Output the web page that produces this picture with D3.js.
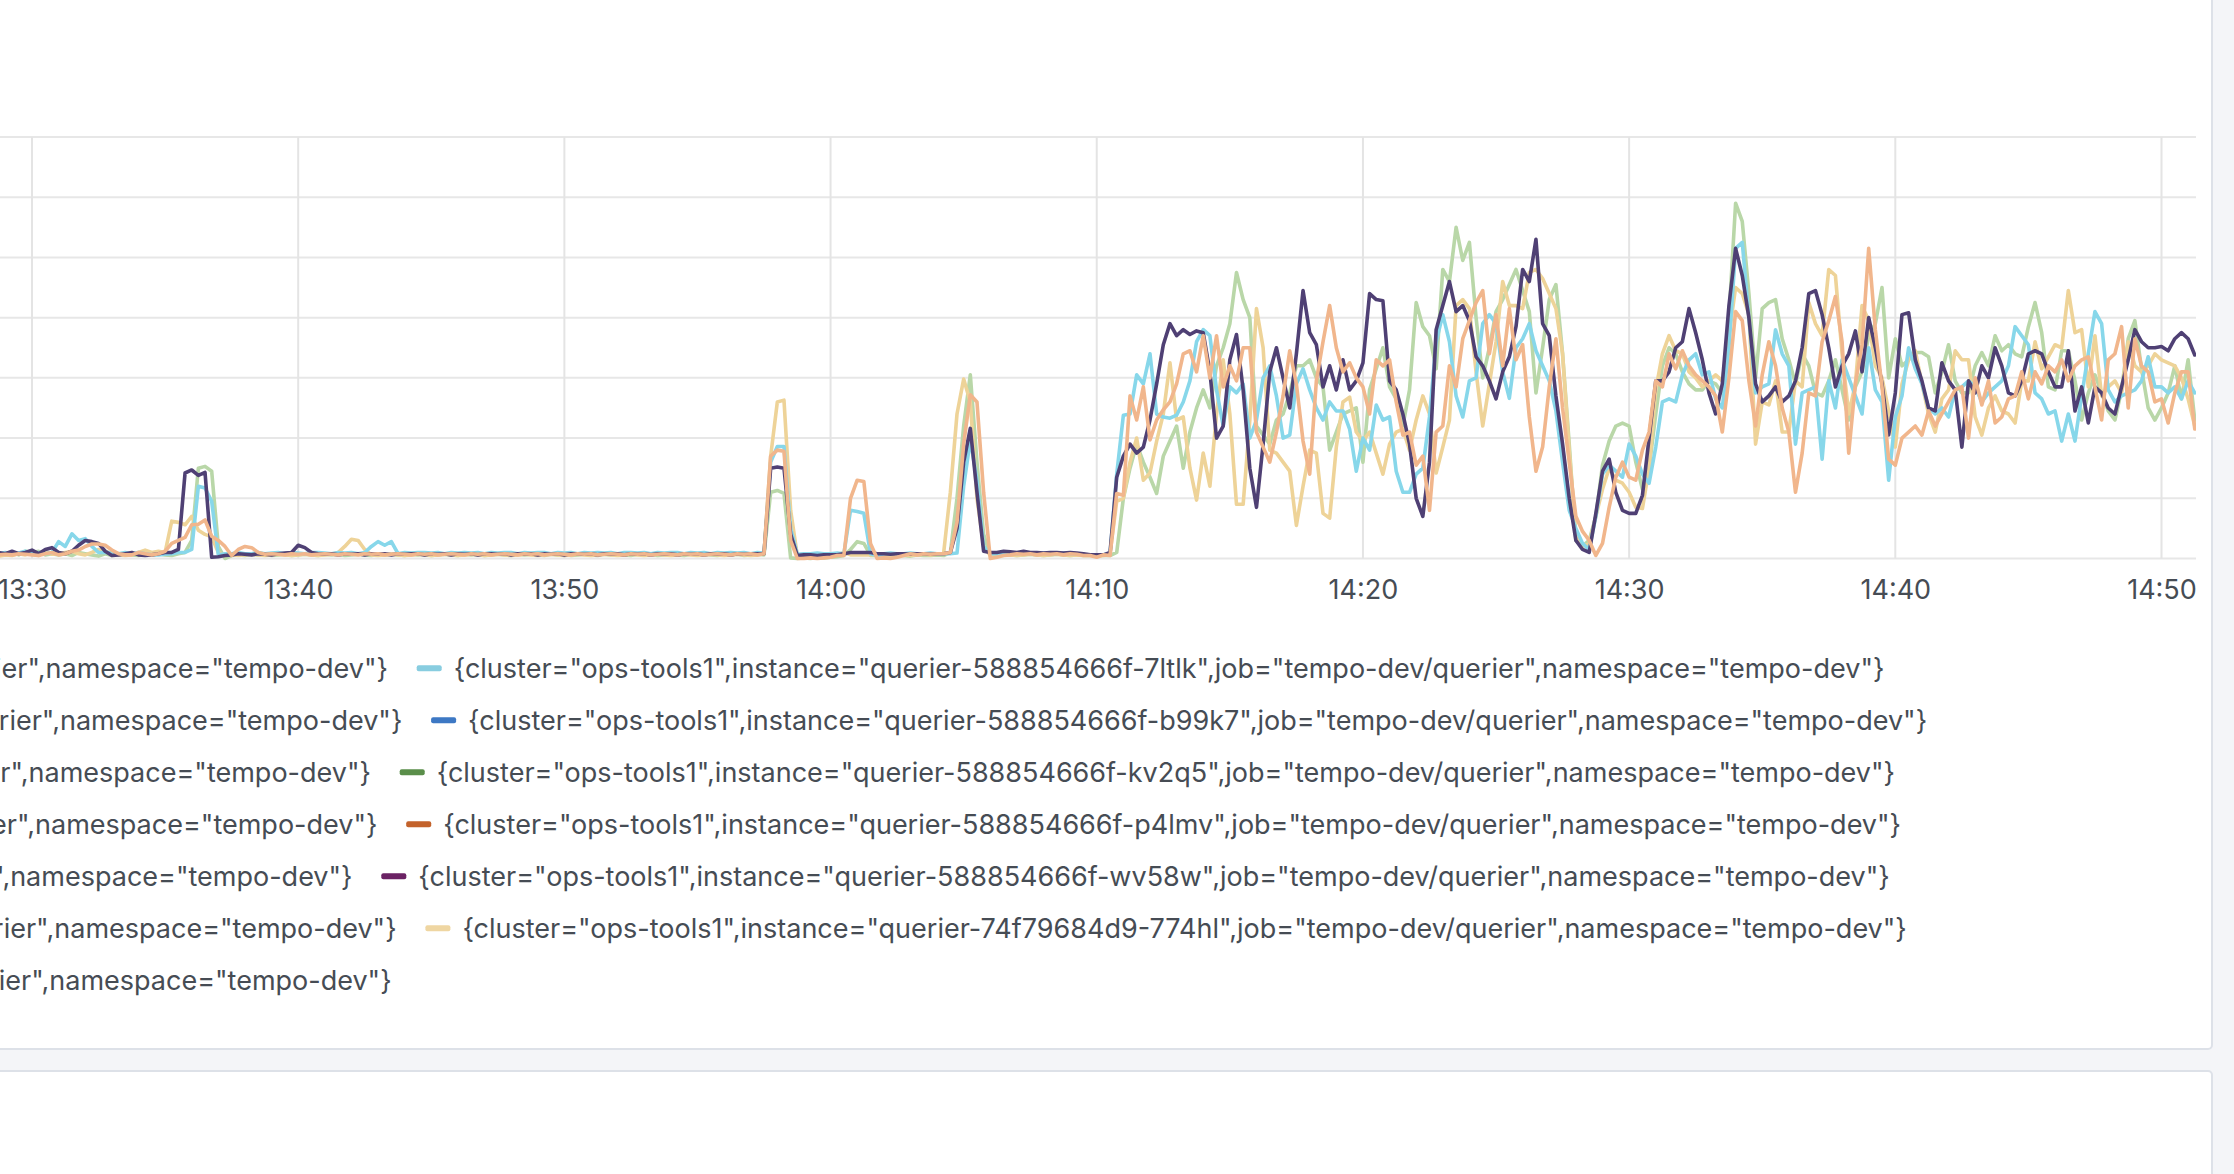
<!DOCTYPE html>
<html><head><meta charset="utf-8">
<script src="https://cdn.jsdelivr.net/npm/d3@7"></script>
<style>
html,body{margin:0;padding:0;background:#f4f5f8;overflow:hidden;}
svg{display:block;font-family:Inter,Roboto,"Noto Sans",sans-serif;}
</style></head><body>
<svg id="c" width="2234" height="1174"></svg>
<script>
// ---------------- DATA ----------------
// samples every 15 s starting 13:28:45
const startTime = [13, 28, 45];
const stepSeconds = 15;
const yTicks = [0, 1, 2, 3, 4, 5, 6, 7];

const purpleVals = [
.10,.08,.12,.08,.10,.14,.08,.15,.18,.10,
.08,.12,.22,.30,.28,.25,.12,.05,.06,.08,
.10,.06,.05,.06,.08,.10,.10,.15,1.42,1.47,
1.38,1.43,.02,.03,.05,.06,.08,.07,.06,.08,
.07,.06,.08,.09,.10,.22,.18,.10,.08,.07,
.08,.06,.08,.07,.08,.06,.08,.07,.08,.06,
.08,.07,.08,.08,.06,.08,.07,.08,.06,.08,
.07,.08,.06,.08,.08,.07,.08,.06,.08,.07,
.08,.06,.08,.07,.08,.06,.08,.08,.07,.08,
.06,.08,.07,.08,.06,.08,.07,.08,.06,.08,
.07,.08,.06,.08,.07,.08,.06,.08,.07,.08,
.06,.08,.07,.08,.08,.08,1.50,1.52,1.50,.40,
.05,.06,.06,.05,.06,.06,.06,.08,.10,.10,
.10,.10,.08,.08,.07,.08,.08,.07,.08,.08,
.07,.08,.08,.10,.50,1.60,2.16,1.10,.12,.10,
.10,.12,.11,.10,.12,.10,.10,.09,.10,.10,
.09,.10,.09,.08,
.06,.06,.06,.10,1.35,1.70,1.90,1.75,1.85,2.30,
2.90,3.55,3.90,3.70,3.80,3.72,3.78,3.75,3.10,2.00,
2.20,3.30,3.72,2.80,1.50,0.85,1.90,3.10,3.50,3.00,
2.50,3.40,4.45,3.75,3.55,2.85,3.20,2.80,3.30,2.80,
2.95,3.25,4.40,4.30,4.28,2.95,2.80,2.40,1.90,1.00,
0.70,1.60,3.80,4.20,4.60,4.10,4.20,3.95,
3.35,3.20,2.95,2.65,3.10,3.35,3.85,4.80,4.60,5.30,
3.90,3.70,2.70,1.90,1.00,0.30,0.15,0.10,0.75,1.45,
1.65,1.10,0.80,0.75,0.75,1.05,2.00,2.95,2.95,3.10,
3.50,3.60,4.15,3.75,3.30,2.75,2.40,2.90,4.20,5.15,
4.70,4.00,2.90,2.60,2.70,2.85,2.60,2.70,2.95,3.50,
4.40,4.45,4.05,3.50,2.85,
3.20,3.40,3.78,3.10,4.00,3.50,2.90,2.05,2.75,4.05,
4.08,3.30,2.95,2.50,2.45,3.25,2.95,2.80,1.85,2.95,
2.75,3.20,3.00,3.50,3.20,2.75,2.70,2.95,3.40,3.45,
3.40,3.10,2.85,2.85,3.45,2.45,2.85,2.25,2.85,2.75,
2.50,2.40,2.85,3.30,3.80,3.60,3.50,3.50,3.52,3.45,
3.65,3.75,3.65,3.38
];

const lightBlueVals = [
.08,.10,.07,.09,.12,.08,.10,.08,.10,.28,
.20,.41,.30,.33,.20,.10,.10,.10,.08,.10,
.08,.10,.08,.06,.06,.07,.08,.10,.10,.15,
1.20,1.17,.95,.06,.08,.08,.10,.08,.08,.10,
.08,.09,.10,.08,.10,.09,.08,.10,.10,.09,
.08,.10,.09,.10,.08,.10,.20,.28,.22,.28,
.08,.10,.09,.10,.10,.09,.10,.08,.10,.09,
.10,.09,.10,.08,.10,.09,.10,.10,.08,.10,
.09,.10,.10,.08,.10,.09,.10,.08,.10,.09,
.10,.09,.10,.08,.10,.10,.09,.10,.08,.10,
.09,.10,.10,.08,.10,.09,.10,.08,.10,.09,
.10,.09,.10,.08,.10,.09,1.60,1.86,1.86,.50,
.07,.08,.08,.09,.08,.08,.09,.08,.80,.78,
.75,.08,.05,.08,.09,.08,.08,.09,.08,.08,
.09,.08,.08,.08,.09,1.20,1.97,1.30,.20,.08,
.08,.09,.08,.08,.09,.08,.08,.09,.08,.08,
.09,.08,.08,.06,
.06,.06,.06,.08,1.40,2.38,2.40,3.05,2.90,3.40,
2.40,2.35,2.33,2.38,2.60,2.95,3.60,3.80,3.70,2.80,
2.20,2.85,2.75,2.90,2.00,2.30,3.00,3.20,2.70,2.00,
2.05,2.90,3.15,2.80,2.50,2.30,2.60,2.45,2.45,2.15,
1.45,2.00,1.80,2.55,2.30,2.35,1.45,1.10,1.10,1.40,
1.50,2.35,3.60,4.05,3.60,2.70,2.35,2.95,
3.00,3.90,4.05,3.90,3.10,2.66,3.50,3.65,3.90,3.45,
3.20,2.95,2.45,1.60,0.80,0.50,0.25,0.15,0.70,1.40,
1.55,1.45,1.35,1.90,1.70,1.40,1.25,1.85,2.60,2.65,
2.60,3.05,3.30,3.40,3.05,3.10,2.65,2.50,3.50,5.15,
5.25,4.00,2.75,2.85,2.90,3.80,3.40,3.20,1.90,2.75,
2.80,2.85,1.65,2.95,2.50,
3.30,3.00,2.70,2.40,3.50,2.80,2.60,1.30,2.35,2.70,
3.50,3.15,2.90,2.50,2.40,2.50,2.35,2.80,2.85,2.95,
2.85,2.60,2.75,2.85,2.95,3.20,3.85,3.70,3.55,2.75,
2.65,2.40,2.45,1.95,2.40,1.95,2.70,3.40,4.10,3.90,
2.80,2.60,2.70,2.75,2.80,2.95,3.35,2.85,2.85,2.75,
2.85,2.65,2.95,2.75
];

const greenVals = [
.05,.08,.10,.06,.12,.10,.12,.06,.08,.06,
.08,.05,.10,.08,.06,.04,.08,.05,.06,.08,
.06,.05,.07,.06,.08,.06,.05,.08,.10,.30,
1.50,1.53,1.45,.20,.00,.05,.06,.05,.07,.06,
.07,.05,.06,.07,.05,.06,.07,.06,.05,.07,
.06,.07,.05,.06,.07,.06,.05,.07,.06,.07,
.06,.05,.07,.06,.07,.05,.06,.07,.06,.05,
.07,.06,.07,.05,.06,.07,.06,.05,.07,.06,
.07,.06,.05,.07,.06,.07,.05,.06,.07,.06,
.05,.07,.06,.07,.06,.05,.07,.06,.07,.05,
.06,.07,.06,.05,.07,.06,.07,.06,.05,.07,
.06,.07,.05,.06,.07,.06,1.10,1.13,1.08,.01,
.00,.01,.00,.02,.01,.02,.03,.05,.15,.28,
.25,.05,.05,.04,.05,.06,.05,.04,.06,.05,
.05,.06,.05,.10,1.00,2.20,3.05,1.60,.40,.05,
.06,.07,.06,.05,.06,.07,.06,.05,.06,.07,
.06,.05,.06,.05,
.05,.05,.05,.05,.10,1.00,1.50,1.90,1.60,1.35,
1.08,1.70,1.95,2.20,1.50,2.10,2.50,2.80,2.50,3.20,
3.50,3.90,4.75,4.30,4.00,2.20,2.05,1.90,2.30,2.40,
2.75,3.20,3.20,3.30,3.00,2.85,1.80,2.10,2.40,2.45,
2.50,1.60,2.80,3.15,3.50,2.85,2.65,2.20,2.80,4.25,
3.85,3.70,3.15,4.80,4.60,5.50,4.95,5.25,
4.00,3.00,3.50,4.10,4.30,4.55,4.80,4.45,4.10,2.75,
3.50,4.30,4.55,3.40,1.90,0.30,0.20,0.30,0.70,1.55,
1.95,2.20,2.25,2.20,1.60,1.15,1.50,2.40,3.20,3.50,
3.40,3.10,2.90,2.80,2.80,2.95,2.90,2.75,4.00,5.90,
5.60,4.40,3.00,4.15,4.25,4.30,3.65,3.30,2.90,3.40,
3.20,2.75,2.70,2.95,3.30,
2.80,2.30,2.85,3.10,3.70,3.90,4.50,3.00,3.65,3.20,
3.30,3.42,3.42,3.35,2.75,3.10,3.55,2.95,2.75,2.75,
3.20,3.42,3.20,3.70,3.45,3.55,3.40,3.35,3.85,4.25,
3.75,2.85,2.80,3.45,3.45,2.95,2.30,2.75,3.05,2.75,
2.45,2.30,2.80,3.65,3.95,3.15,2.50,2.30,2.50,2.75,
3.20,2.65,3.30,2.30
];

const tanVals = [
.04,.06,.05,.08,.06,.10,.05,.12,.07,.08,
.10,.12,.08,.06,.10,.15,.12,.08,.06,.05,
.06,.10,.14,.10,.12,.10,.62,.60,.56,.70,
.47,.40,.36,.10,.05,.06,.05,.06,.07,.06,
.05,.06,.07,.06,.05,.06,.07,.06,.05,.06,
.07,.10,.20,.32,.30,.15,.06,.05,.06,.07,
.06,.05,.06,.07,.06,.05,.06,.07,.06,.05,
.06,.07,.06,.05,.06,.07,.06,.05,.06,.07,
.06,.05,.06,.07,.06,.05,.06,.07,.06,.05,
.06,.07,.06,.05,.06,.07,.06,.05,.06,.07,
.06,.05,.06,.07,.06,.05,.06,.07,.06,.05,
.06,.07,.06,.05,.06,.08,1.70,2.60,2.63,.80,
.05,.05,.06,.05,.06,.05,.06,.10,.06,.06,
.06,.06,.06,.05,.06,.07,.06,.05,.06,.07,
.06,.07,.10,1.10,2.40,2.98,2.60,1.00,.20,.05,
.06,.07,.06,.05,.06,.07,.06,.05,.06,.07,
.06,.05,.06,.05,
.05,.05,.05,.08,.95,1.00,1.60,2.00,1.30,1.42,
1.95,2.40,3.25,2.30,2.35,1.50,0.97,1.75,1.20,2.40,
3.30,2.40,0.90,0.90,2.30,4.15,3.50,1.80,1.75,1.60,
1.45,0.55,1.20,1.80,1.75,0.75,0.67,1.85,2.60,2.68,
2.10,1.95,2.10,1.75,1.40,1.90,2.10,2.15,1.80,2.30,
2.70,2.40,1.42,1.85,2.30,4.20,4.30,4.15,
3.10,2.20,2.90,3.60,4.60,4.20,4.20,4.15,4.75,4.80,
4.65,4.40,4.15,3.40,1.80,0.40,0.20,0.25,0.70,1.15,
1.50,1.30,1.25,1.10,0.85,0.83,1.50,2.80,3.40,3.70,
3.45,3.40,3.10,3.00,2.85,2.95,3.05,2.95,3.70,4.50,
4.40,4.05,1.90,2.60,2.55,2.95,2.10,2.10,2.95,2.85,
4.25,3.90,3.70,4.80,4.70,
3.40,2.40,2.90,4.20,3.95,3.20,3.00,2.45,1.85,2.90,
3.30,3.45,2.90,2.40,2.10,2.65,2.80,3.45,3.30,3.30,
2.35,2.05,2.50,2.70,2.45,2.40,2.25,2.95,2.95,3.60,
3.15,3.35,3.55,3.50,4.45,3.75,3.80,2.85,3.70,2.70,
2.85,2.95,2.75,3.60,3.20,3.10,3.20,3.40,3.30,3.25,
3.20,3.00,2.65,2.20
];

const peachVals = [
.06,.07,.06,.08,.07,.06,.05,.08,.10,.06,
.08,.12,.14,.20,.24,.24,.22,.14,.08,.06,
.06,.10,.08,.06,.08,.12,.25,.30,.35,.56,
.57,.64,.37,.30,.20,.05,.15,.20,.18,.10,
.07,.08,.07,.06,.08,.07,.08,.06,.07,.08,
.07,.06,.08,.07,.06,.08,.07,.08,.06,.07,
.08,.07,.06,.08,.07,.08,.06,.07,.08,.07,
.06,.08,.07,.08,.06,.07,.08,.07,.06,.08,
.07,.08,.06,.07,.08,.07,.06,.08,.07,.08,
.06,.07,.08,.07,.06,.08,.07,.08,.06,.07,
.08,.07,.06,.08,.07,.08,.06,.07,.08,.07,
.06,.08,.07,.08,.06,.08,1.70,1.80,1.78,.30,
.00,.00,.01,.00,.01,.02,.05,.05,1.00,1.30,
1.28,.25,.00,.01,.00,.02,.05,.08,.06,.08,
.07,.08,.08,.10,.60,1.90,2.72,2.60,1.10,.00,
.02,.05,.06,.08,.07,.08,.06,.08,.07,.08,
.06,.08,.07,.05,
.05,.02,.06,.05,1.08,1.05,2.70,2.30,2.85,1.97,
2.30,2.47,2.60,2.90,3.40,3.45,3.10,3.70,3.00,3.70,
2.85,3.20,2.95,3.50,3.50,2.10,1.85,1.60,2.10,2.70,
3.45,2.90,1.95,1.40,2.95,3.60,4.20,3.50,3.10,3.25,
3.00,2.85,2.40,3.30,3.20,3.30,2.60,2.05,2.10,1.55,
1.70,0.80,2.10,2.20,3.20,2.85,3.65,3.95,
4.25,4.45,3.40,4.05,3.20,4.15,3.30,3.55,2.35,1.45,
1.85,2.85,3.65,2.50,1.60,0.70,0.45,0.30,0.05,0.25,
0.85,1.35,1.60,1.35,1.30,1.80,2.10,2.95,2.85,3.40,
3.15,3.45,3.20,3.05,2.95,2.85,2.70,2.10,3.00,4.10,
3.95,2.95,2.20,3.05,3.60,3.20,2.50,2.10,1.10,1.75,
2.75,2.70,3.60,3.95,4.35,
3.60,1.75,2.90,3.55,5.15,3.80,2.85,1.65,1.55,2.00,
2.10,2.20,2.05,2.45,2.20,2.40,2.60,2.80,2.85,2.00,
3.00,2.55,2.95,2.25,2.35,2.65,2.70,3.10,2.65,3.10,
2.90,3.20,3.10,3.30,2.95,3.20,3.30,3.35,2.85,2.30,
3.30,3.40,3.85,2.50,3.65,3.20,3.10,2.60,2.65,2.25,
2.75,3.10,3.10,2.15
];

const seriesNames  = ["green", "tan", "lightblue", "purple", "peach"];
const seriesColors = ["#b9d7a8", "#eed398", "#87d7ea", "#4f4074", "#f1b68c"];
const seriesValues = [greenVals, tanVals, lightBlueVals, purpleVals, peachVals];

const leftLabels = [
'{cluster="ops-tools1",instance="querier-588854666f-2xkpw",job="tempo-dev/querier",namespace="tempo-dev"}',
'{cluster="ops-tools1",instance="querier-588854666f-5mn8t",job="tempo-dev/querier",namespace="tempo-dev"}',
'{cluster="ops-tools1",instance="querier-588854666f-9hqzr",job="tempo-dev/querier",namespace="tempo-dev"}',
'{cluster="ops-tools1",instance="querier-588854666f-fk4sd",job="tempo-dev/querier",namespace="tempo-dev"}',
'{cluster="ops-tools1",instance="querier-588854666f-jw7xc",job="tempo-dev/querier",namespace="tempo-dev"}',
'{cluster="ops-tools1",instance="querier-588854666f-r2lbn",job="tempo-dev/querier",namespace="tempo-dev"}',
'{cluster="ops-tools1",instance="querier-588854666f-tzv6m",job="tempo-dev/querier",namespace="tempo-dev"}'
];
const rightLabels = [
'{cluster="ops-tools1",instance="querier-588854666f-7ltlk",job="tempo-dev/querier",namespace="tempo-dev"}',
'{cluster="ops-tools1",instance="querier-588854666f-b99k7",job="tempo-dev/querier",namespace="tempo-dev"}',
'{cluster="ops-tools1",instance="querier-588854666f-kv2q5",job="tempo-dev/querier",namespace="tempo-dev"}',
'{cluster="ops-tools1",instance="querier-588854666f-p4lmv",job="tempo-dev/querier",namespace="tempo-dev"}',
'{cluster="ops-tools1",instance="querier-588854666f-wv58w",job="tempo-dev/querier",namespace="tempo-dev"}',
'{cluster="ops-tools1",instance="querier-74f79684d9-774hl",job="tempo-dev/querier",namespace="tempo-dev"}'
];
const rightColors = ["#88cde0", "#3d78c4", "#5a8e4a", "#c3622b", "#6b2264", "#efd6a2"];

// ---------------- LAYOUT ----------------
const W = 2234, H = 1174;
const plotRight = 2196, plotTop = 137, plotBottom = 558.5, plotLeft = -60;
const textColor = "#464c54";
const fontStack = "Inter, Roboto, sans-serif";
const legendLeftEnds = [388, 402.4, 371, 377.5, 352.6, 396.7, 391.7];

const svg = d3.select("#c");
svg.append("rect").attr("x", 0).attr("y", 0).attr("width", W).attr("height", H).attr("fill", "#f4f5f8");
svg.append("rect").attr("x", -20).attr("y", -20).attr("width", 2232).attr("height", 1069)
  .attr("rx", 4).attr("fill", "#fff").attr("stroke", "#dde1e8").attr("stroke-width", 2);
svg.append("rect").attr("x", -20).attr("y", 1071).attr("width", 2232).attr("height", 200)
  .attr("rx", 4).attr("fill", "#fff").attr("stroke", "#dde1e8").attr("stroke-width", 2);

const T = (h, m, s = 0) => new Date(2021, 4, 12, h, m, s);
const x = d3.scaleTime().domain([T(13, 30), T(14, 50)]).range([32, 2161.5]);
const y = d3.scaleLinear().domain([0, 7]).range([plotBottom, plotTop]);
const t0 = T(startTime[0], startTime[1], startTime[2]).getTime();

// grid
const grid = svg.append("g");
grid.selectAll("line.h").data(yTicks).join("line").attr("class", "h")
  .attr("x1", plotLeft).attr("x2", plotRight).attr("y1", d => y(d)).attr("y2", d => y(d))
  .attr("stroke", "#e7e7e7").attr("stroke-width", 2);
const xTicks = x.ticks(d3.timeMinute.every(10));
grid.selectAll("line.v").data(xTicks).join("line").attr("class", "v")
  .attr("x1", d => x(d)).attr("x2", d => x(d)).attr("y1", plotTop).attr("y2", plotBottom)
  .attr("stroke", "#e4e4e4").attr("stroke-width", 2);

// lines
svg.append("clipPath").attr("id", "clip").append("rect")
  .attr("x", plotLeft).attr("y", plotTop - 20).attr("width", plotRight - plotLeft).attr("height", plotBottom - plotTop + 30);
const line = d3.line()
  .x((d, i) => x(new Date(t0 + i * stepSeconds * 1000)))
  .y(d => y(d));
const lg = svg.append("g").attr("clip-path", "url(#clip)");
seriesValues.forEach((vals, k) => {
  lg.append("path").datum(vals).attr("d", line)
    .attr("fill", "none").attr("stroke", seriesColors[k]).attr("stroke-width", 3.6)
    .attr("stroke-linejoin", "round").attr("stroke-linecap", "round");
});

// x axis labels
const ax = svg.append("g").attr("transform", `translate(0,${plotBottom})`)
  .call(d3.axisBottom(x).ticks(d3.timeMinute.every(10)).tickFormat(d3.timeFormat("%H:%M")).tickSize(0).tickPadding(21));
ax.select(".domain").remove();
ax.selectAll("text").attr("font-size", 27).attr("fill", textColor).attr("font-family", fontStack);

// legend
const lgd = svg.append("g").attr("font-family", fontStack).attr("font-size", 27).attr("fill", textColor);
const rowBase = 677.8, rowStep = 52;
leftLabels.forEach((t, i) => {
  lgd.append("text").attr("x", legendLeftEnds[i]).attr("y", rowBase + i * rowStep)
    .attr("text-anchor", "end").text(t);
});
rightLabels.forEach((t, i) => {
  const yb = rowBase + i * rowStep;
  const sx = legendLeftEnds[i] + 28.7;
  lgd.append("rect").attr("x", sx).attr("y", yb - 12.5).attr("width", 25).attr("height", 6)
    .attr("rx", 2).attr("fill", rightColors[i]);
  lgd.append("text").attr("x", sx + 37).attr("y", yb).text(t);
});
</script>
</body></html>
